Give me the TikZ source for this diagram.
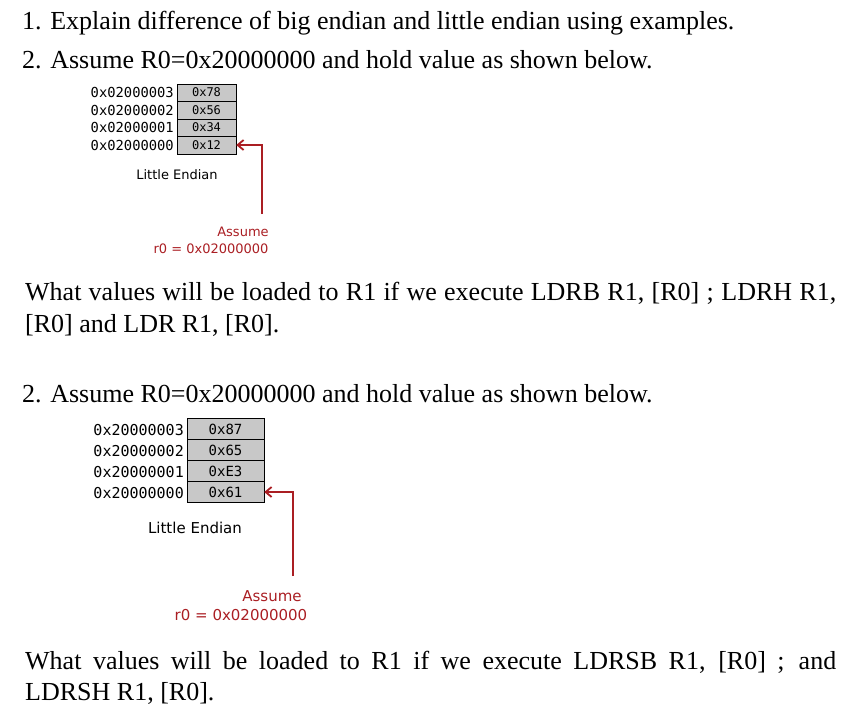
\documentclass[tikz,border=0pt]{standalone}
\usepackage{fontspec}
\setmainfont{Liberation Serif}
\newfontfamily\lsans{DejaVu Sans}
\newfontfamily\lmono{DejaVu Sans Mono}
\definecolor{dred}{RGB}{170,30,35}
\definecolor{cellgray}{RGB}{200,200,200}
\begin{document}
\begin{tikzpicture}[x=1pt,y=-1pt,
  body/.style={anchor=west,inner sep=0,font=\fontsize{26}{28}\selectfont},
  cellA/.style={draw,fill=cellgray,minimum width=59,minimum height=17.5,inner sep=0,font=\lmono\fontsize{12}{12}\selectfont},
  cellB/.style={draw,fill=cellgray,minimum width=77,minimum height=21,inner sep=0,font=\lmono\fontsize{14}{14}\selectfont},
  addrA/.style={anchor=east,inner sep=0,font=\lmono\fontsize{13.8}{14}\selectfont},
  addrB/.style={anchor=east,inner sep=0,font=\lmono\fontsize{15}{15}\selectfont},
  lab/.style={inner sep=0,font=\lsans\fontsize{13}{14}\selectfont},
  red/.style={text=dred},
  arr/.style={draw=dred,line width=1.5,-{Straight Barb[length=6,width=10,line width=1.8]}}]
\useasboundingbox (0,0) rectangle (867,723);
\usetikzlibrary{arrows.meta}
\node[body] (t1) at (22,23) {1. Explain difference of big endian and little endian using examples.};
\node[body] (t2) at (22,60) {2. Assume R0=0x20000000 and hold value as shown below.};
% first memory
\node[cellA] (a3) at (206.5,92.5) {0x78};
\node[cellA] (a2) at (206.5,110) {0x56};
\node[cellA] (a1) at (206.5,127.5) {0x34};
\node[cellA] (a0) at (206.5,145) {0x12};
\node[addrA] (la3) at (174,92.5) {0x02000003};
\node[addrA] (la2) at (174,110) {0x02000002};
\node[addrA] (la1) at (174,127.5) {0x02000001};
\node[addrA] (la0) at (174,145) {0x02000000};
\node[lab] (leA) at (177,175) {Little Endian};
\node[lab,red] (asA) at (243,232) {Assume};
\node[lab,red] (r0A) at (211,249) {r0 = 0x02000000};
\coordinate (cA) at (262,145);
\draw[arr] (262,214) -- (cA) -- (a0.east);
\node[body] (t3) at (25,293) {\makebox[811pt][s]{What values will be loaded to R1 if we execute LDRB R1, [R0] ; LDRH R1,}};
\node[body] (t4) at (25,325) {[R0] and LDR R1, [R0].};
\node[body] (t5) at (22,394) {2. Assume R0=0x20000000 and hold value as shown below.};
% second memory
\node[cellB] (b3) at (225.5,429) {0x87};
\node[cellB] (b2) at (225.5,450) {0x65};
\node[cellB] (b1) at (225.5,471) {0xE3};
\node[cellB] (b0) at (225.5,492) {0x61};
\node[addrB] (lb3) at (184,430) {0x20000003};
\node[addrB] (lb2) at (184,451) {0x20000002};
\node[addrB] (lb1) at (184,472) {0x20000001};
\node[addrB] (lb0) at (184,493) {0x20000000};
\node[lab,font=\lsans\fontsize{15}{15}\selectfont] (leB) at (195,528) {Little Endian};
\node[lab,red,font=\lsans\fontsize{15}{15}\selectfont] (asB) at (272,596) {Assume};
\node[lab,red,font=\lsans\fontsize{15}{15}\selectfont] (r0B) at (241,615) {r0 = 0x02000000};
\coordinate (cB) at (293,492);
\draw[arr] (293,576) -- (cB) -- (b0.east);
\node[body] (t6) at (25,662) {\makebox[811pt][s]{What values will be loaded to R1 if we execute LDRSB R1, [R0] ; and}};
\node[body] (t7) at (25,693) {LDRSH R1, [R0].};
\end{tikzpicture}
\end{document}
